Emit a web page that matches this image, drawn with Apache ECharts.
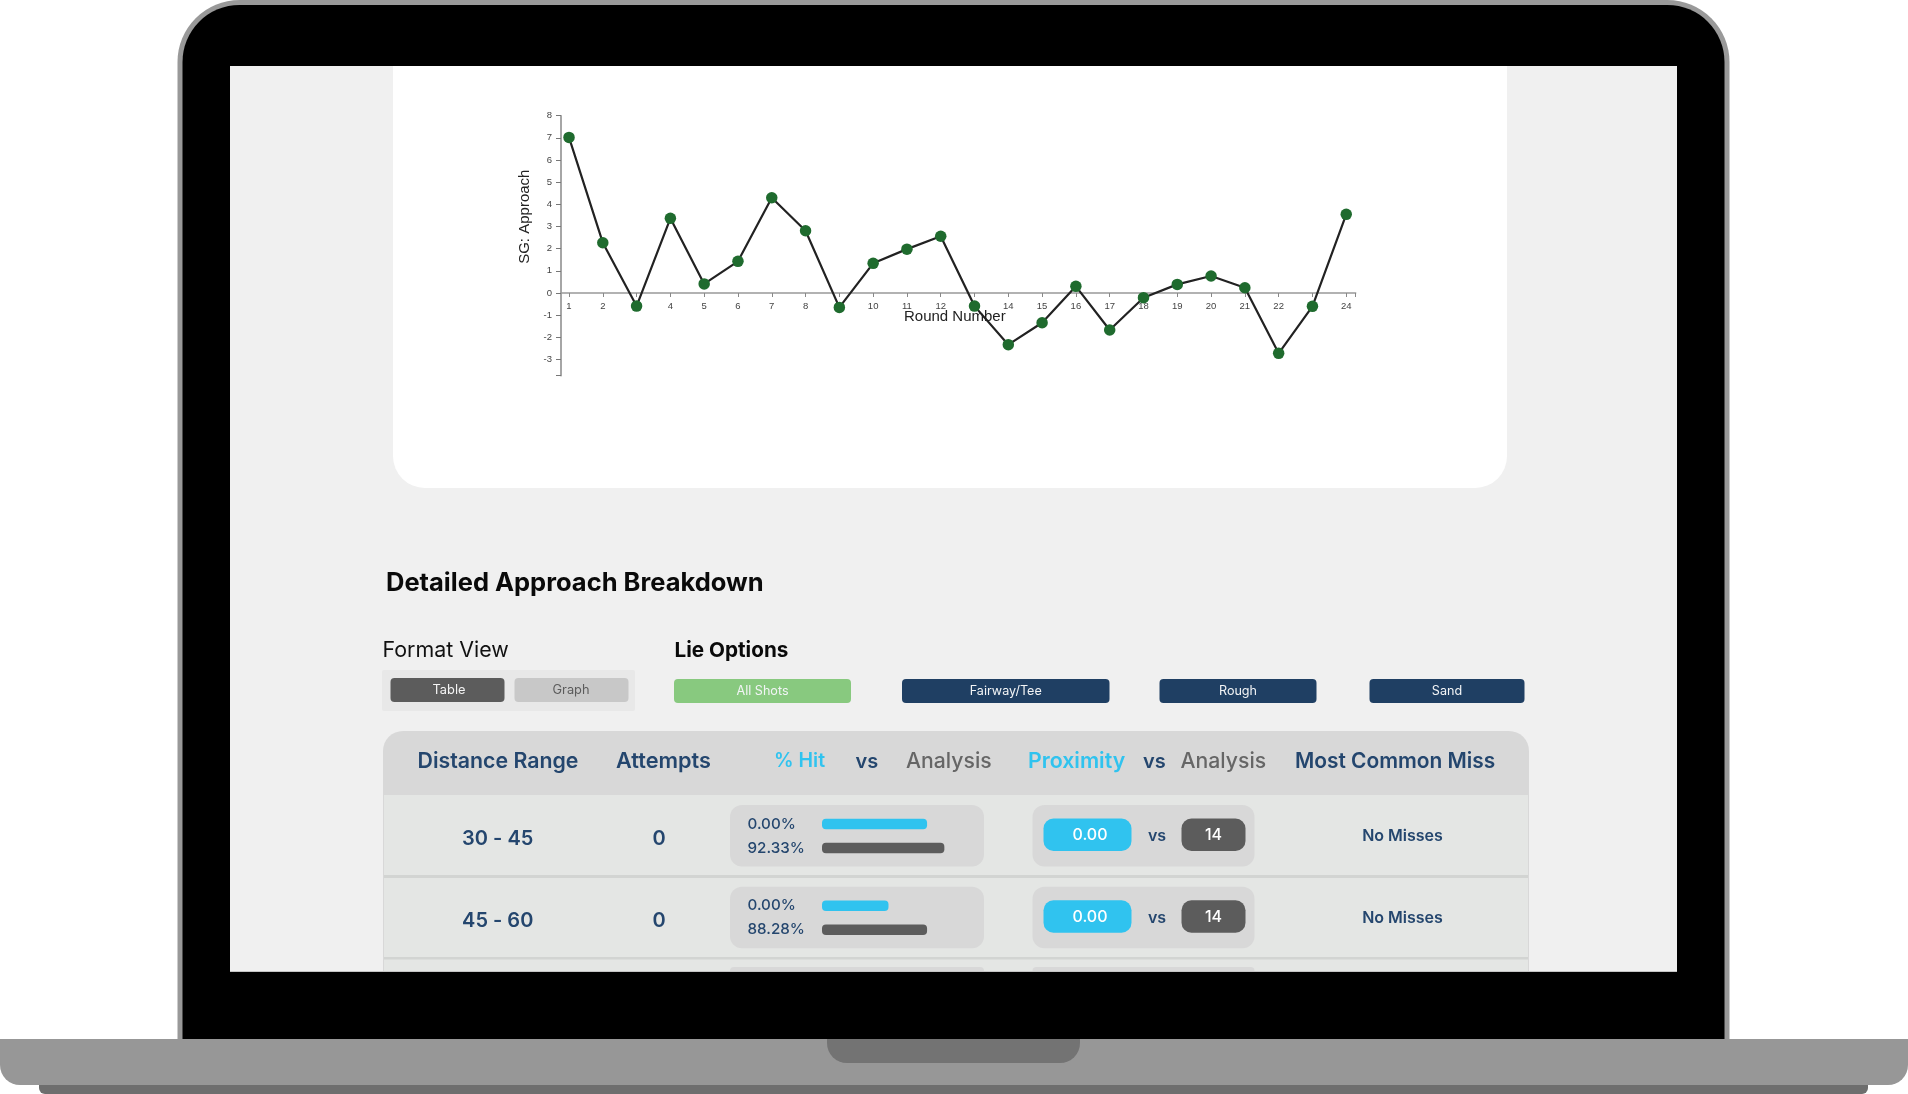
<!DOCTYPE html>
<html>
<head>
<meta charset="utf-8">
<title>Approach</title>
<script src="https://cdn.jsdelivr.net/npm/echarts@6/dist/echarts.min.js"></script>
<style>
html,body{margin:0;padding:0;background:#fff;overflow:hidden}
#main{width:1908px;height:1094px}
</style>
</head>
<body>
<div id="main"></div>
<script>
// line chart data
var rounds = [1,2,3,4,5,6,7,8,9,10,11,12,13,14,15,16,17,18,19,20,21,22,23,24];
var sgApproach = [7.02,2.27,-0.59,3.37,0.41,1.43,4.30,2.81,-0.65,1.34,1.98,2.56,-0.59,-2.33,-1.34,0.30,-1.67,-0.21,0.39,0.77,0.24,-2.72,-0.60,3.55];
var yTicks = [-3,-2,-1,0,1,2,3,4,5,6,7,8];

// table data
var distanceRanges = ['30 - 45','45 - 60'];
var attempts = [0,0];
var hitLabels = ['0.00%','0.00%'];
var analysisLabels = ['92.33%','88.28%'];
var hitBarLengths = [79,50];
var analysisBarLengths = [92,79];
var proximity = ['0.00','0.00'];
var proximityAnalysis = ['14','14'];
var commonMiss = ['No Misses','No Misses'];
var lieOptions = ['All Shots','Fairway/Tee','Rough','Sand'];

var NAVY = '#24466e', CYAN = '#30c3ef', GREY = '#5c5c5c';
var UI_FONT = 'Inter, "Open Sans", sans-serif';
var CHART_FONT = '"Liberation Sans", Arial, sans-serif';

function box(x, y, w, h, r, fill) {
    return {type:'rect', z:-1, shape:{x:x, y:y, width:w, height:h, r:r}, style:{fill:fill}};
}
function label(text, x, y, size, weight, fill, align) {
    return {type:'text', z:1, style:{text:text, x:x, y:y, fontSize:size, fontWeight:weight, fontFamily:UI_FONT,
        fill:fill, align:align || 'center', verticalAlign:'middle'}};
}

// laptop frame
var g = [
    box(177.5,0,1552,1045,[62,62,0,0],'#999999'),
    box(182.5,5,1542,1040,[57,57,0,0],'#000000'),
    box(230,66,1447,905,0,'#f0f0f0'),
    box(230,971,1447,1,0,'#c4c4c4'),
    box(0,1039,1908,46,[0,0,20,20],'#979797'),
    box(827,1039,253,24,[0,0,20,20],'#737373'),
    box(39,1085,1829,9,[0,0,6,6],'#6e6e6e'),
    box(393,66,1114,422,[0,0,32,32],'#ffffff')
];

// heading and buttons
g.push(label('Detailed Approach Breakdown',386,583,25.5,700,'#0a0a0a','left'));
g.push(label('Format View',382.5,651,21.4,400,'#111111','left'));
g.push(label('Lie Options',674.5,651,20.7,700,'#0a0a0a','left'));
g.push(box(382,670,253,41,2,'#e8e8e8'));
g.push(box(390.5,678,114,24,4,GREY));
g.push(box(514.5,678,114,24,4,'#c8c8c8'));
g.push(label('Table',449,690.5,12.8,400,'#f4f4f4'));
g.push(label('Graph',571,690.5,12.8,400,GREY));

var lieX = [674,902,1159.5,1369.5];
var lieW = [177,207.5,157,155];
lieOptions.forEach(function(name, i){
    g.push(box(lieX[i],679,lieW[i],24,4,i == 0 ? '#88c97f' : '#1f3f63'));
    g.push(label(name,lieX[i] + lieW[i] / 2,691.5,12.6,400,'#f2f4f6'));
});

// table
g.push(box(383,731,1146,240,[20,20,0,0],'#d8d8d8'));
g.push(box(384,795,1144,176,0,'#e4e6e4'));
g.push(box(384,875,1144,3,0,'#d2d4d2'));
g.push(box(384,957,1144,2.5,0,'#d2d4d2'));
g.push(box(730,967,254,4,[6,6,0,0],'#d8d8d8'));
g.push(box(1032.5,967,222,4,[6,6,0,0],'#d8d8d8'));

g.push(label('Distance Range',417.5,761.5,21.3,600,NAVY,'left'));
g.push(label('Attempts',616,761.5,21.7,600,NAVY,'left'));
g.push(label('% Hit',774,761.5,19.5,600,CYAN,'left'));
g.push(label('vs',855.5,761.5,20,600,NAVY,'left'));
g.push(label('Analysis',906,761.5,21.2,500,'#666666','left'));
g.push(label('Proximity',1028,761.5,21.3,600,CYAN,'left'));
g.push(label('vs',1143,761.5,20,600,NAVY,'left'));
g.push(label('Analysis',1180.5,761.5,21.2,500,'#666666','left'));
g.push(label('Most Common Miss',1295,761.5,20.9,600,NAVY,'left'));

var rowTop = [805,886.7];
distanceRanges.forEach(function(range, i){
    var t = rowTop[i];
    g.push(label(range,497.7,t + 34,20,600,NAVY));
    g.push(label(String(attempts[i]),659,t + 34,20,600,NAVY));
    g.push(box(730,t,254,61.5,12,'#d8d8d8'));
    g.push(label(hitLabels[i],747.5,t + 19,15.2,500,NAVY,'left'));
    g.push(label(analysisLabels[i],747.5,t + 43,15.2,500,NAVY,'left'));
    g.push(box(1032.5,t,222,61.5,12,'#d8d8d8'));
    g.push(box(1043.5,t + 13.5,88,32.5,10,CYAN));
    g.push(label(proximity[i],1090,t + 30.5,16,500,'#ffffff'));
    g.push(label('vs',1157,t + 31,16,600,NAVY));
    g.push(box(1181.5,t + 13.5,64,32.5,10,GREY));
    g.push(label(proximityAnalysis[i],1213.5,t + 30.5,16,500,'#ffffff'));
    g.push(label(commonMiss[i],1402.5,t + 31,16,600,NAVY));
});

// x axis sits on the zero line, moved up from the bottom of the grid with offset
var grids = [{left:561, top:115.7, width:794.7, height:260}];
var xAxes = [{
    type:'value', min:0.763, max:24.28,
    position:'bottom', offset:-82.7,
    name:'Round Number', nameLocation:'middle', nameGap:16, nameMoveOverlap:false,
    nameTextStyle:{fontFamily:CHART_FONT, fontSize:15, color:'#222', padding:[0,7,0,0]},
    axisLine:{onZero:false, lineStyle:{color:'#999', width:1.5}},
    axisTick:{length:4, lineStyle:{color:'#888', width:1}, customValues:rounds.concat([24.28])},
    axisLabel:{customValues:rounds, margin:8, fontSize:9.5, color:'#444', fontFamily:CHART_FONT},
    splitLine:{show:false}
}];
var yAxes = [{
    type:'value', min:-3.73, max:8,
    name:'SG: Approach', nameLocation:'middle', nameGap:28.5, nameRotate:90, nameMoveOverlap:false,
    nameTextStyle:{fontFamily:CHART_FONT, fontSize:15, color:'#222', padding:[0,0,0,58]},
    axisLine:{show:true, lineStyle:{color:'#888', width:1.5}},
    axisTick:{show:true, length:5, lineStyle:{color:'#777', width:1}, customValues:yTicks.concat([-3.73])},
    axisLabel:{customValues:yTicks, margin:9, fontSize:9.5, color:'#444', fontFamily:CHART_FONT},
    splitLine:{show:false}
}];
var series = [{
    type:'line',
    xAxisIndex:0, yAxisIndex:0,
    data:rounds.map(function(r, i){ return [r, sgApproach[i]]; }),
    symbol:'circle', symbolSize:11.5,
    lineStyle:{color:'#222', width:2.2},
    itemStyle:{color:'#1f6b2e'},
    z:3
}];

// the two small bar rows of the % Hit column
distanceRanges.forEach(function(range, i){
    grids.push({left:822, top:rowTop[i] + 7, width:133, height:48});
    xAxes.push({type:'value', gridIndex:i + 1, min:0, max:100, show:false});
    yAxes.push({type:'category', gridIndex:i + 1, data:['Hit','Analysis'], inverse:true, show:false});
    series.push({
        type:'bar', xAxisIndex:i + 1, yAxisIndex:i + 1, barWidth:10.5,
        data:[
            {value:hitBarLengths[i], itemStyle:{color:CYAN, borderRadius:4}},
            {value:analysisBarLengths[i], itemStyle:{color:GREY, borderRadius:4}}
        ]
    });
});

var myChart = echarts.init(document.getElementById('main'));
myChart.setOption({
    animation:false,
    grid:grids,
    xAxis:xAxes,
    yAxis:yAxes,
    series:series,
    graphic:{elements:g}
});
</script>
</body>
</html>
